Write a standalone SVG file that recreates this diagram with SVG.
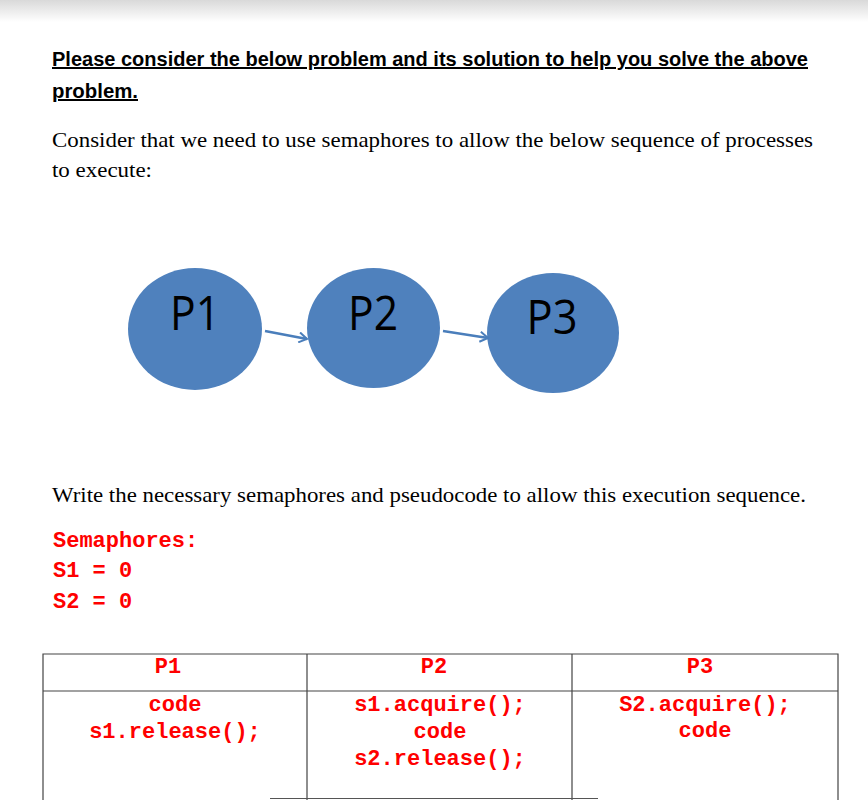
<svg xmlns="http://www.w3.org/2000/svg" width="868" height="800" viewBox="0 0 868 800">
<style>
.title{font-family:"Liberation Sans",Arial,sans-serif;font-weight:bold;font-size:20px;fill:#000;text-decoration:underline}
.serif{font-family:"Liberation Serif","Times New Roman",serif;font-size:22px;fill:#000}
.node{fill:#4F81BD}
.lbl{font-family:"Open Sans","Liberation Sans",sans-serif;font-size:48px;fill:#000;text-anchor:middle}
.code{font-family:"Liberation Mono","Courier New",monospace;font-weight:bold;font-size:22px;fill:#FF0000}
.cell{text-anchor:middle}
.grid{stroke:#444;stroke-width:1.2;fill:none}
.conn{stroke:#4A7EBB;stroke-width:2.5;fill:none}
</style>
<defs>
<linearGradient id="topfade" x1="0" y1="0" x2="0" y2="1">
<stop offset="0" stop-color="#d9d9d9"/>
<stop offset="1" stop-color="#ffffff"/>
</linearGradient>
<marker id="arr" viewBox="0 0 12 12" refX="10" refY="6" markerWidth="12" markerHeight="12" markerUnits="userSpaceOnUse" orient="auto">
<path d="M2,1 L10,6 L2,11" fill="none" stroke="#4A7EBB" stroke-width="2"/>
</marker>
</defs>
<rect x="0" y="0" width="868" height="800" fill="#fff"/>
<rect x="0" y="0" width="868" height="22" fill="url(#topfade)"/>

<text class="title" x="52" y="66" textLength="756" lengthAdjust="spacingAndGlyphs">Please consider the below problem and its solution to help you solve the above</text>
<text class="title" x="52" y="98" textLength="86" lengthAdjust="spacingAndGlyphs">problem.</text>
<text class="serif" x="52" y="147" textLength="761" lengthAdjust="spacingAndGlyphs">Consider that we need to use semaphores to allow the below sequence of processes</text>
<text class="serif" x="52" y="177" textLength="100" lengthAdjust="spacingAndGlyphs">to execute:</text>

<g id="P1"><ellipse class="node" cx="195" cy="329" rx="67" ry="61"/><text class="lbl" x="195" y="330" textLength="50" lengthAdjust="spacingAndGlyphs">P1</text></g>
<g id="P2"><ellipse class="node" cx="373.5" cy="328" rx="66.5" ry="60"/><text class="lbl" x="373" y="330" textLength="50" lengthAdjust="spacingAndGlyphs">P2</text></g>
<g id="P3"><ellipse class="node" cx="553" cy="333" rx="66" ry="60"/><text class="lbl" x="552" y="334" textLength="51" lengthAdjust="spacingAndGlyphs">P3</text></g>

<g id="connectors">
<line class="conn" x1="265" y1="331" x2="307" y2="339" marker-end="url(#arr)"/>
<line class="conn" x1="443" y1="331" x2="488" y2="338" marker-end="url(#arr)"/>
</g>

<text class="serif" x="52" y="502" textLength="754" lengthAdjust="spacingAndGlyphs">Write the necessary semaphores and pseudocode to allow this execution sequence.</text>

<text class="code" x="53" y="547">Semaphores:</text>
<text class="code" x="53" y="577">S1 = 0</text>
<text class="code" x="53" y="608">S2 = 0</text>

<g id="table">
<path class="grid" d="M43,800 V654 H838 V800 M43,691 H838 M307,654 V800 M572,654 V800"/>
<line x1="270" y1="798.5" x2="598" y2="798.5" stroke="#555" stroke-width="1.2"/>
<text class="code cell" x="168" y="673">P1</text>
<text class="code cell" x="434" y="673">P2</text>
<text class="code cell" x="700" y="673">P3</text>
<text class="code cell" x="175" y="711">code</text>
<text class="code cell" x="175" y="738">s1.release();</text>
<text class="code cell" x="440" y="711">s1.acquire();</text>
<text class="code cell" x="440" y="738">code</text>
<text class="code cell" x="440" y="765">s2.release();</text>
<text class="code cell" x="705" y="711">S2.acquire();</text>
<text class="code cell" x="705" y="737">code</text>
</g>
</svg>
